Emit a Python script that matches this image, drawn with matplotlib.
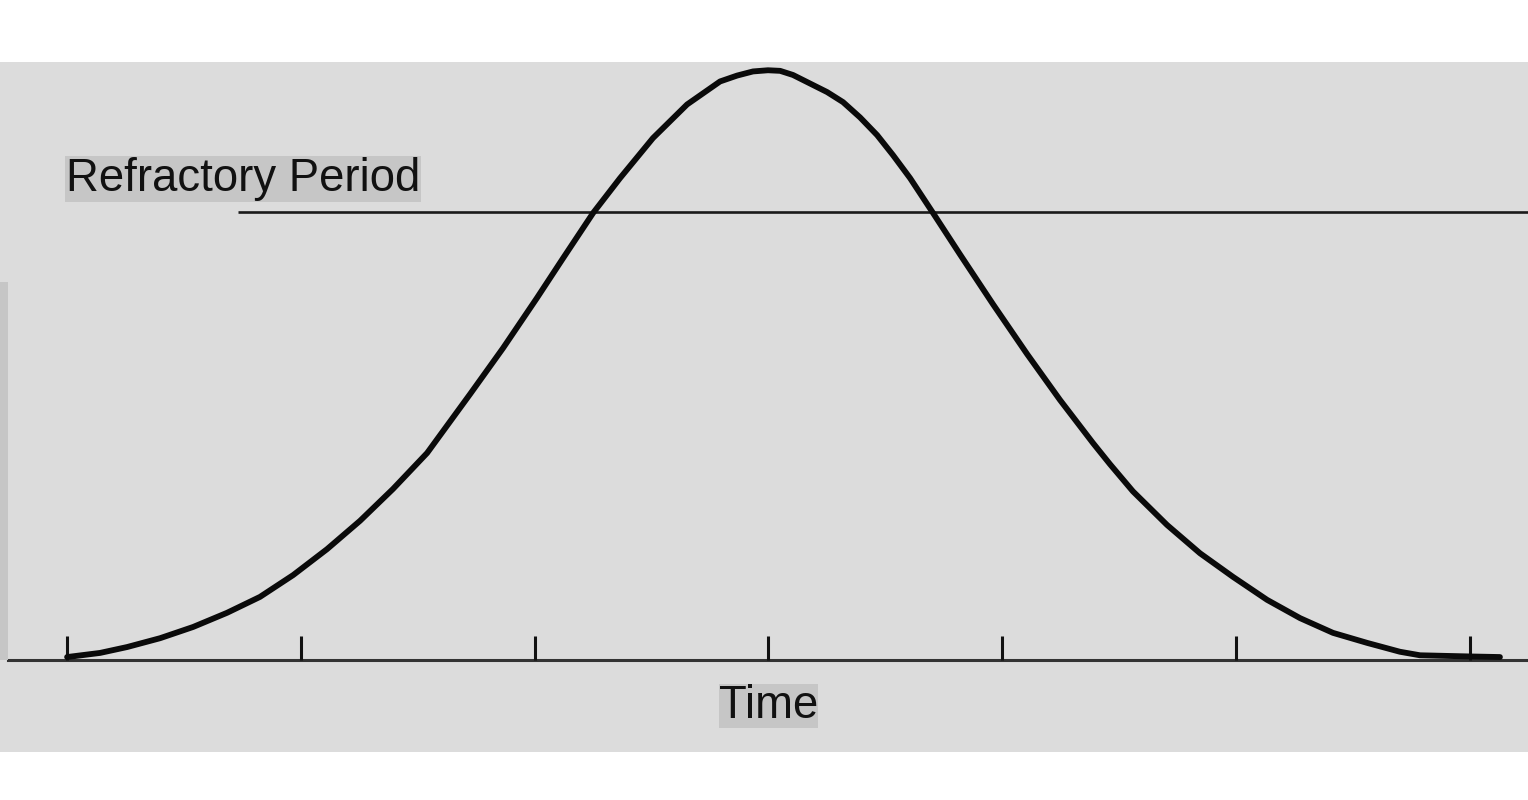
import numpy as np
import matplotlib.pyplot as plt
from matplotlib.patches import Rectangle

# Data (time in tick units, height as % of peak)
# ---------------------------------------------------------------------
time = [0.000, 0.141, 0.257, 0.398, 0.539, 0.684, 0.825, 0.967, 1.112, 1.253,
        1.394, 1.540, 1.724, 1.865, 2.010, 2.121, 2.250, 2.365, 2.506,
        2.652, 2.793, 2.866, 2.934, 2.998, 3.050, 3.105, 3.251, 3.319, 3.392,
        3.465, 3.533, 3.606, 3.704, 3.819, 3.961, 4.106, 4.247, 4.388, 4.461,
        4.559, 4.705, 4.846, 4.987, 5.133, 5.274, 5.415, 5.561, 5.701, 5.787,
        6.001, 6.129]
height = [0.5, 1.2, 2.2, 3.7, 5.6, 8.0, 10.7, 14.4, 18.8, 23.6,
          29.0, 35.1, 45.1, 52.9, 61.4, 68.1, 75.8, 81.7, 88.5,
          94.2, 98.1, 99.1, 99.8, 100.0, 99.9, 99.2, 96.3, 94.6, 92.0,
          89.0, 85.6, 81.7, 75.8, 68.8, 60.3, 51.9, 44.1, 36.8, 33.2,
          28.6, 22.9, 18.1, 14.1, 10.2, 7.1, 4.6, 2.9, 1.4, 0.8,
          0.6, 0.5]
tick_pos = [0, 1, 2, 3, 4, 5, 6]
refractory_level = 75.9
refractory_start = 0.73
label_text = "Refractory Period"
xlabel_text = "Time"

plt.rcParams['font.family'] = ['Liberation Sans', 'DejaVu Sans']

fig = plt.figure(figsize=(15.28, 8), dpi=100)
fig.patch.set_facecolor('white')
ax = fig.add_axes([0, 48 / 800, 1, 690 / 800])
ax.set_facecolor('#dcdcdc')
ax.set_xlim(-0.287, 6.249)
ax.set_ylim(-15.6, 101.4)
for s in ax.spines.values():
    s.set_visible(False)
ax.set_xticks([])
ax.set_yticks([])

# baseline + ticks
ax.axhline(0, xmin=0.005, color='#333333', lw=2.2, zorder=2)
ax.vlines(tick_pos, 0, 4.1, color='#111111', lw=2.2, zorder=2)

# curve
ax.plot(time, height, color='#0a0a0a', lw=4.2, solid_capstyle='round',
        solid_joinstyle='round', zorder=3)

# refractory threshold
ax.hlines(refractory_level, refractory_start, 6.3, color='#1a1a1a', lw=1.9, zorder=2)

ax.text(-0.005, 79.5, label_text, fontsize=32.8, color='#111111', ha='left',
        va='baseline', bbox=dict(facecolor='#c6c6c6', edgecolor='none', pad=0.5))
ax.text(3.0, -9.8, xlabel_text, fontsize=32.8, color='#111111', ha='center',
        va='baseline', bbox=dict(facecolor='#c6c6c6', edgecolor='none', pad=0))

# cut-off y label strip at left edge
fig.patches.append(Rectangle((0, 140 / 800), 8 / 1528, 378 / 800,
                             transform=fig.transFigure, facecolor='#c6c6c6',
                             edgecolor='none'))

fig.savefig('out.png', dpi=100)
